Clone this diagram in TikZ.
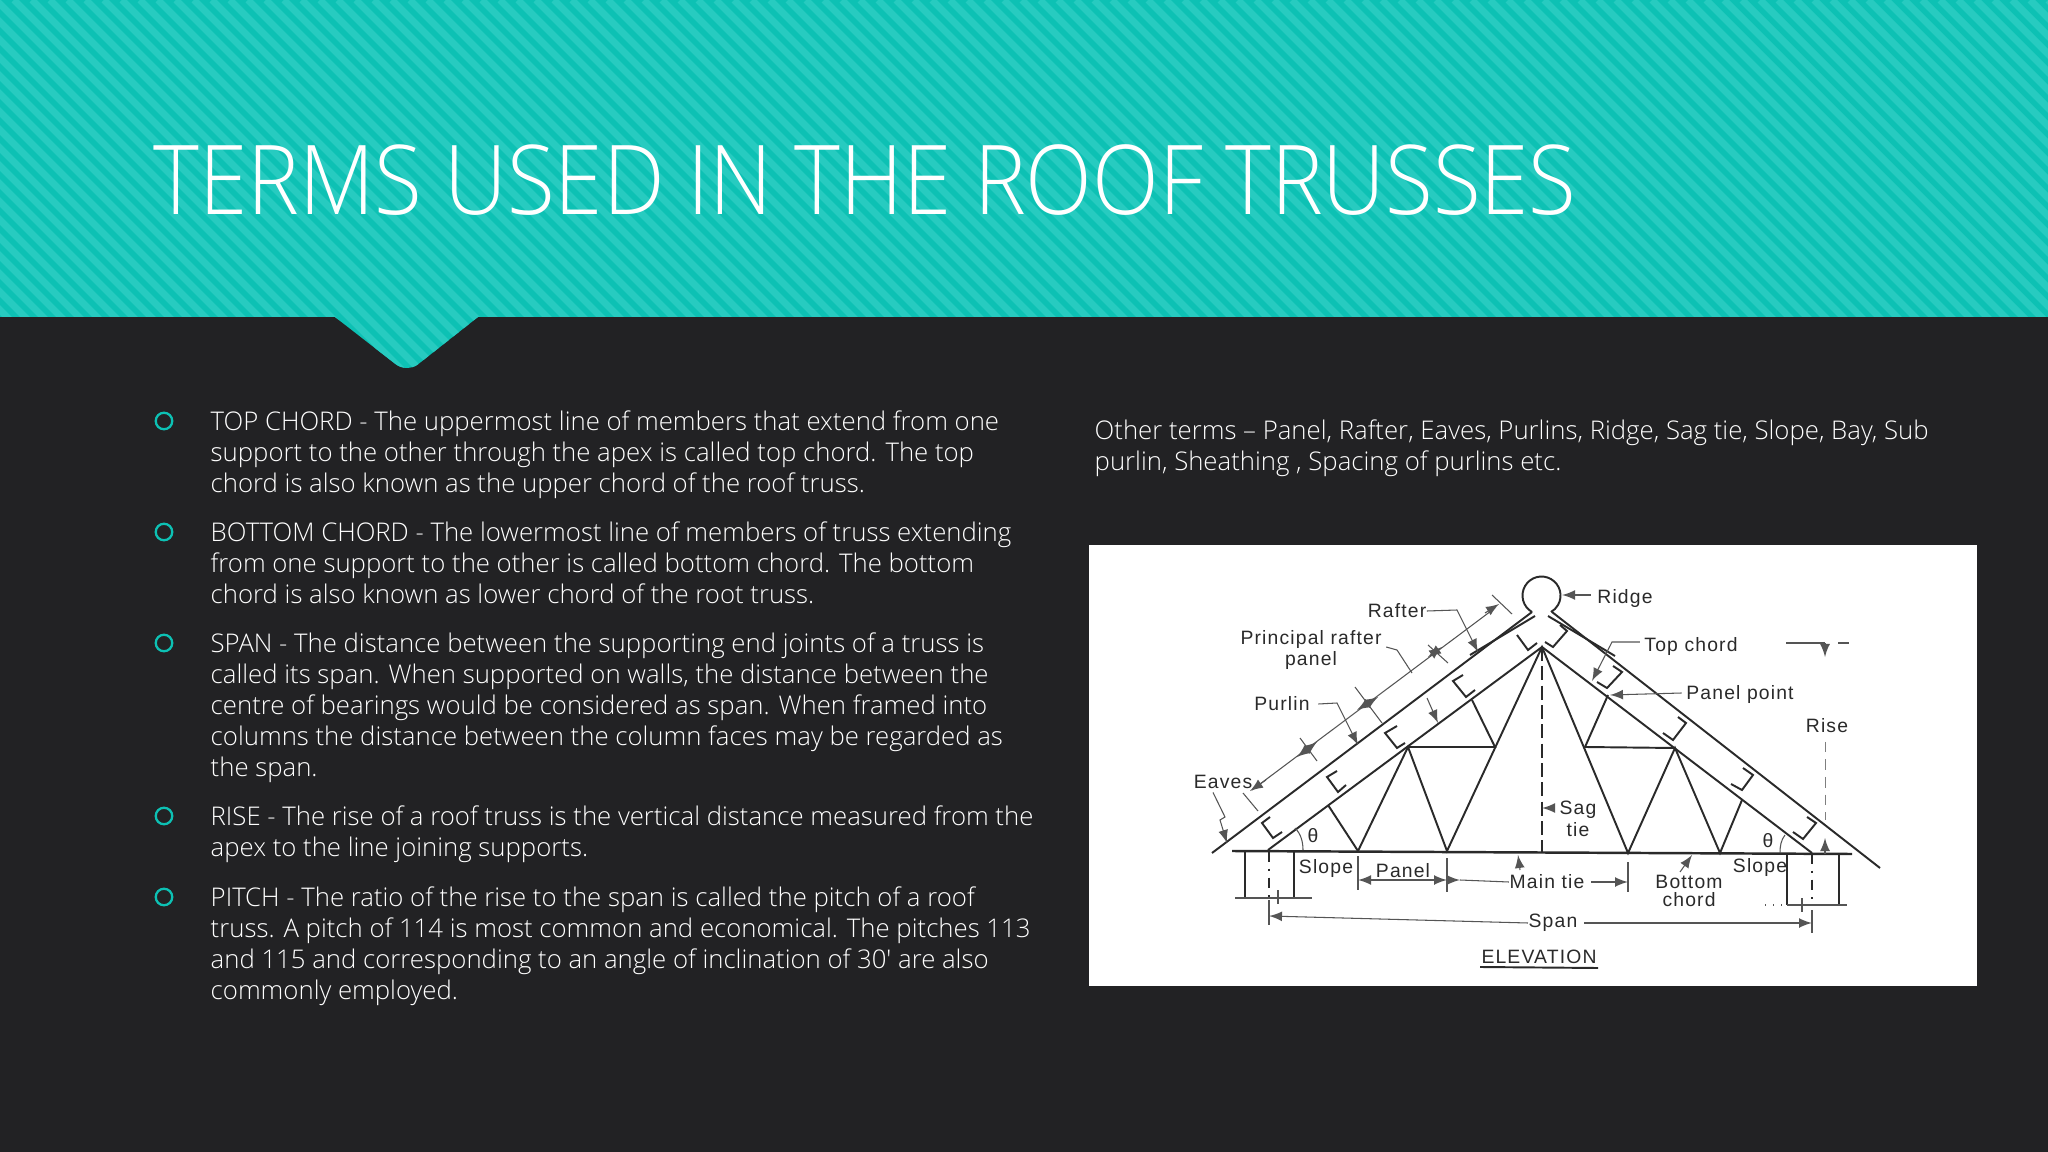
\documentclass[tikz,border=0pt]{standalone}
\usepackage{fontspec}
\setmainfont{Open Sans Light}
\newfontfamily\titlefont[FakeStretch=0.905]{Open Sans Light}
\newfontfamily\rawfont{Open Sans Light}
\newfontfamily\drawfont[LetterSpace=6]{Liberation Sans}
\definecolor{slidebg}{HTML}{222224}
\definecolor{headteal}{HTML}{0DC1B4}
\definecolor{stripeteal}{HTML}{27CBC0}
\definecolor{inkgrey}{HTML}{2A2A2A}
\tikzset{
  bodytext/.style={anchor=north west,align=left,text=white,inner sep=0pt,font=\fontsize{7.32}{8.82}\selectfont},
  bulletring/.style={circle,draw=headteal,line width=0.65pt,minimum size=4.7pt,inner sep=0pt},
  trusslabel/.style={text=inkgrey,inner sep=0pt,align=center,font=\drawfont\fontsize{5.5}{5.1}\selectfont},
  member/.style={inkgrey,line width=0.55pt},
  thinline/.style={inkgrey!80,line width=0.3pt}
}
\begin{document}
\begin{tikzpicture}[x=0.01cm,y=-0.01cm]
  \useasboundingbox (0,0) rectangle (2048,1152);
  \fill[slidebg] (0,0) rectangle (2048,1152);

  %header band
  \begin{scope}
    \clip (0,0) -- (2048,0) -- (2048,317) -- (478,317) {[rounded corners=4pt] -- (407,373)} -- (335,317) -- (0,317) -- cycle;
    \fill[headteal] (0,0) rectangle (2048,380);
    \foreach \x in {-400,-382,...,2048}
      \draw[stripeteal,line width=2pt] (\x,0) -- ++(400,400);
  \end{scope}
  \node[anchor=west,text=white,inner sep=0pt,font=\titlefont\fontsize{27.4}{30}\selectfont] (title) at (153,180) {TERMS USED IN THE ROOF TRUSSES};

  %left column
  \node[bulletring] (bulla) at (164,421) {};
  \node[bulletring] (bullb) at (164,532) {};
  \node[bulletring] (bullc) at (164,643) {};
  \node[bulletring] (bulld) at (164,816) {};
  \node[bulletring] (bulle) at (164,897) {};
  \node[bodytext] (topchord) at (210,410) {TOP CHORD - The uppermost line of members that extend from one\\support to the other through the apex is called top chord. The top\\chord is also known as the upper chord of the roof truss.};
  \node[bodytext] (botchord) at (210,521) {BOTTOM CHORD - The lowermost line of members of truss extending\\from one support to the other is called bottom chord. The bottom\\chord is also known as lower chord of the root truss.};
  \node[bodytext] (span) at (210,632) {SPAN - The distance between the supporting end joints of a truss is\\called its span. When supported on walls, the distance between the\\centre of bearings would be considered as span. When framed into\\columns the distance between the column faces may be regarded as\\the span.};
  \node[bodytext] (rise) at (210,805) {RISE - The rise of a roof truss is the vertical distance measured from the\\apex to the line joining supports.};
  \node[bodytext] (pitch) at (210,886) {PITCH - The ratio of the rise to the span is called the pitch of a roof\\truss. A pitch of 114 is most common and economical. The pitches 113\\and 115 and corresponding to an angle of inclination of 30{\rawfont '} are also\\commonly employed.};

  %right column
  \node[bodytext] (other) at (1094,419) {Other terms -- Panel, Rafter, Eaves, Purlins, Ridge, Sag tie, Slope, Bay, Sub\\purlin, Sheathing , Spacing of purlins etc.};
  \fill[white] (1089,545) rectangle (1977,986);

  %truss points
  \coordinate (apex) at (1542,647);
  \coordinate (eaveL) at (1268,850);
  \coordinate (eaveR) at (1812,853);
  \coordinate (nodeLa) at (1328,805);
  \coordinate (nodeLb) at (1408,747);
  \coordinate (nodeLc) at (1472,700);
  \coordinate (nodeLd) at (1495,747);
  \coordinate (nodeRa) at (1742,800);
  \coordinate (nodeRb) at (1675,748);
  \coordinate (nodeRc) at (1608,695);
  \coordinate (nodeRd) at (1585,747);
  \coordinate (tieLa) at (1358,851);
  \coordinate (tieLb) at (1447,851);
  \coordinate (tieM) at (1542,852);
  \coordinate (tieRb) at (1628,853);
  \coordinate (tieRa) at (1720,853);

  %ridge and rafters
  \draw[member] (1532,612) arc[start angle=240,end angle=-60,radius=0.19cm];
  \draw[member] (1212,853) -- (1532,612);
  \draw[member] (1470,655) -- (1535,616);
  \draw[member] (1552,612) -- (1880,868);
  \draw[member] (1548,616) -- (1615,656);

  %chords
  \draw[member] (eaveL) -- (apex) -- (eaveR);
  \draw[member,line width=0.7pt] (1232,851) -- (1852,854);

  %web members
  \draw[member] (nodeLa) -- (tieLa) -- (nodeLb) -- (tieLb) -- (apex) -- (tieRb) -- (nodeRb) -- (tieRa) -- (nodeRa);
  \draw[member] (nodeLb) -- (nodeLd) -- (nodeLc);
  \draw[member] (nodeRc) -- (nodeRd) -- (nodeRb);
  \draw[member,dash pattern=on 4pt off 1.5pt] (apex) -- (tieM);

  %purlins left
  \draw[member] (1517,635) -- (1528,650) -- (1537,643);
  \draw[member] (1463,675) -- (1453,681) -- (1466,697) -- (1475,690);
  \draw[member] (1397,726) -- (1385,733) -- (1397,748) -- (1405,743);
  \draw[member] (1337,771) -- (1327,777) -- (1338,792) -- (1346,785);
  \draw[member] (1270,817) -- (1262,823) -- (1273,838) -- (1282,832);

  %purlins right
  \draw[member] (1545,642) -- (1553,647) -- (1567,631) -- (1560,625);
  \draw[member] (1597,682) -- (1607,688) -- (1622,672) -- (1613,666);
  \draw[member] (1663,733) -- (1673,740) -- (1686,723) -- (1678,717);
  \draw[member] (1731,784) -- (1742,790) -- (1753,775) -- (1743,768);
  \draw[member] (1793,832) -- (1803,839) -- (1816,823) -- (1807,817);

  %dimension along rafter
  \draw[thinline] (1252,790) -- (1495,608);
  \draw[thinline] (1243,793) -- (1258,811);
  \draw[thinline] (1300,738) -- (1317,761);
  \draw[thinline] (1355,687) -- (1382,723);
  \draw[thinline] (1428,645) -- (1448,663);
  \draw[thinline] (1492,595) -- (1512,614);
  \draw[thinline,-latex] (1266,780) -- (1250,791);
  \draw[thinline,latex-latex] (1297,757) -- (1317,742);
  \draw[thinline,latex-latex] (1357,710) -- (1378,697);
  \draw[thinline,latex-latex] (1428,657) -- (1442,647);
  \draw[thinline,-latex] (1485,613) -- (1499,604);

  %labels left
  \node[trusslabel] (rafter) at (1397,611) {Rafter};
  \node[trusslabel] (panelrafter) at (1311,650) {Principal rafter\\panel};
  \node[trusslabel] (purlin) at (1282,704) {Purlin};
  \node[trusslabel] (eaves) at (1223,782) {Eaves};
  \node[trusslabel] (thetaL) at (1313,836) {θ};
  \node[trusslabel] (slopeL) at (1326,868) {Slope};
  \node[trusslabel] (panel) at (1403,871) {Panel};
  \coordinate (rafterTip) at (1478,652);
  \coordinate (purlinTip) at (1358,745);
  \coordinate (panelTip) at (1438,723);
  \coordinate (eavesTip) at (1227,843);
  \draw[thinline,-latex] (rafter.east) -- (1457,610) -- (rafterTip);
  \draw[thinline] (panelrafter.east) ++(4,-3) -- (1397,650) -- (1412,673);
  \draw[thinline,-latex] (1427,698) -- (panelTip);
  \draw[thinline,-latex] (purlin.east) ++(8,0) -- (1337,703) -- (purlinTip);
  \draw[thinline,-latex] (eaves.south) ++(-10,3) -- (1225,817) -- (1220,820) -- (eavesTip);

  %labels right
  \node[trusslabel] (ridge) at (1625,598) {Ridge};
  \node[trusslabel] (topchordlbl) at (1691,647) {Top chord};
  \node[trusslabel] (panelpoint) at (1740,694) {Panel point};
  \node[trusslabel] (riselbl) at (1827,726) {Rise};
  \node[trusslabel] (sagtie) at (1578,819) {Sag\\tie};
  \node[trusslabel] (thetaR) at (1768,841) {θ};
  \node[trusslabel] (slopeR) at (1760,867) {Slope};
  \node[trusslabel] (bottomlbl) at (1689,891) {Bottom\\chord};
  \node[trusslabel] (maintie) at (1547,882) {Main tie};
  \node[trusslabel] (spanlbl) at (1553,923) {Span};
  \node[trusslabel] (elevation) at (1539,957) {ELEVATION};
  \coordinate (ridgeTip) at (1562,595);
  \coordinate (chordTip) at (1592,681);
  \coordinate (pointTip) at (1610,695);
  \coordinate (riseTip) at (1825,838);
  \coordinate (sagTip) at (1542,808);
  \draw[thinline,-latex] (ridge.west) ++(-6,-3) -- (ridgeTip);
  \draw[thinline,-latex] (topchordlbl.west) ++(-4,-5) -- (1612,642) -- (chordTip);
  \draw[thinline,-latex] (panelpoint.west) ++(-4,-1) -- (pointTip);
  \draw[thinline,-latex] (sagtie.west) ++(-5,-11) -- (sagTip);
  \draw[inkgrey!60,line width=0.25pt,densely dashed] (riselbl.south) ++(-2,8) -- (1825,820);
  \draw[thinline,-latex] (1825,854) -- (riseTip);
  \draw[thinline,-latex] (1680,872) -- (1692,855);
  \draw[thinline,-latex] (1520,870) -- (1518,855);
  \draw[member] (1480,967) -- (1598,968);

  %angle arcs
  \draw[thinline] (1295,828) .. controls (1301,834) and (1303,842) .. (1303,850);
  \draw[thinline] (1785,835) .. controls (1781,840) and (1780,846) .. (1780,853);

  %free dimension mark
  \draw[thinline] (1786,643) -- (1825,643);
  \draw[thinline,-latex] (1825,643) -- (1825,657);
  \draw[thinline,dashed] (1838,643) -- (1850,643);

  %panel and main tie dimensions
  \draw[thinline] (1358,856) -- (1358,890);
  \draw[thinline] (1447,858) -- (1447,892);
  \draw[thinline] (1628,862) -- (1628,892);
  \draw[thinline,latex-latex] (1358,880) -- (1447,880);
  \draw[thinline,-latex] (1447,880) -- (1460,880);
  \draw[thinline] (1460,880) -- (maintie.west);
  \draw[thinline,-latex] (maintie.east) ++(6,0) -- (1628,882);

  %bearing marks left
  \draw[member] (1245,851) -- (1245,898);
  \draw[member,dash dot] (1269,851) -- (1269,898);
  \draw[member] (1294,851) -- (1294,898);
  \draw[thinline] (1235,898) -- (1312,898);
  \draw[thinline] (1278,890) -- (1278,904);

  %bearing marks right
  \draw[member] (1787,853) -- (1787,905);
  \draw[member,dash dot] (1812,853) -- (1812,905);
  \draw[member] (1839,855) -- (1839,905);
  \draw[thinline,dotted] (1765,905) -- (1787,905);
  \draw[thinline] (1787,905) -- (1847,905);
  \draw[thinline] (1802,898) -- (1802,912);

  %span dimension
  \draw[thinline] (1269,900) -- (1269,925);
  \draw[thinline] (1812,910) -- (1812,933);
  \draw[thinline,latex-] (1269,916) -- (spanlbl.west);
  \draw[thinline,-latex] (spanlbl.east) ++(6,0) -- (1812,923);
\end{tikzpicture}
\end{document}
